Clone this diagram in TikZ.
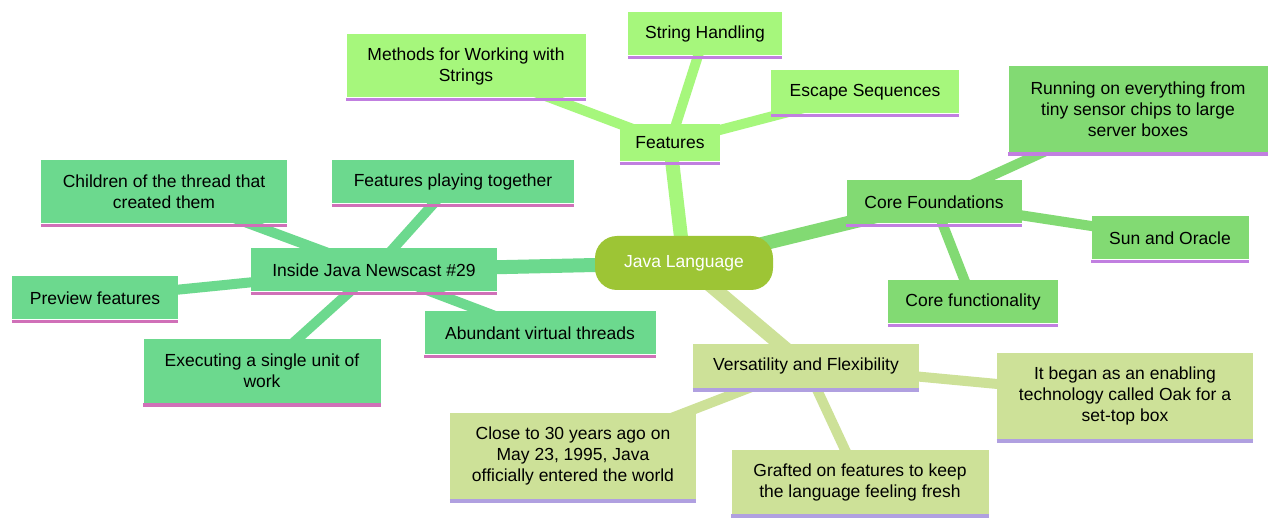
\documentclass[tikz,border=0pt]{standalone}
\usepackage{fontspec}
\setmainfont{Liberation Sans}
\usetikzlibrary{backgrounds}
\definecolor{rootc}{HTML}{9DC535}
\definecolor{featc}{HTML}{A6F77C}
\definecolor{corec}{HTML}{82DA73}
\definecolor{insc}{HTML}{6CD98E}
\definecolor{verc}{HTML}{CDE198}
\definecolor{lineA}{HTML}{C17FE0}
\definecolor{lineB}{HTML}{D070B8}
\definecolor{lineC}{HTML}{B0A0E0}
\tikzset{
 bx/.style={fill=#1, inner sep=0pt, align=center, font=\fontsize{17.5}{21}\selectfont},
 ed/.style={line width=#1, line cap=butt},
 ul/.style={line width=3.5, #1},
}
\begin{document}
\begin{tikzpicture}[x=1pt,y=-1pt]
\useasboundingbox (0,0) rectangle (1280,526);
% nodes
\node[bx=rootc, rounded corners=22pt, minimum width=178, minimum height=54, text=white] (root) at (684,263) {Java Language};
\node[bx=featc, minimum width=100, minimum height=37] (feat) at (670,143) {Features};
\node[bx=featc, minimum width=154, minimum height=43] (str) at (705,34) {String Handling};
\node[bx=featc, minimum width=239, minimum height=63] (meth) at (466,66) {Methods for Working with\\Strings};
\node[bx=featc, minimum width=188, minimum height=43] (esc) at (865,92) {Escape Sequences};
\node[bx=corec, minimum width=175, minimum height=43] (core) at (934,202) {Core Foundations};
\node[bx=corec, minimum width=259, minimum height=86] (run) at (1138,109) {Running on everything from\\tiny sensor chips to large\\server boxes};
\node[bx=corec, minimum width=157, minimum height=43] (sun) at (1170,238) {Sun and Oracle};
\node[bx=corec, minimum width=170, minimum height=43] (cfun) at (973,302) {Core functionality};
\node[bx=insc, minimum width=246, minimum height=43] (ins) at (374,270) {Inside Java Newscast \#29};
\node[bx=insc, minimum width=246, minimum height=63] (child) at (164,192) {Children of the thread that\\created them};
\node[bx=insc, minimum width=242, minimum height=43] (play) at (453,182) {Features playing together};
\node[bx=insc, minimum width=166, minimum height=43] (prev) at (95,298) {Preview features};
\node[bx=insc, minimum width=237, minimum height=64] (exec) at (262,371) {Executing a single unit of\\work};
\node[bx=insc, minimum width=231, minimum height=43] (abun) at (540,333) {Abundant virtual threads};
\node[bx=verc, minimum width=226, minimum height=44] (ver) at (806,366) {Versatility and Flexibility};
\node[bx=verc, minimum width=256, minimum height=86] (oak) at (1125,396) {It began as an enabling\\technology called Oak for a\\set-top box};
\node[bx=verc, minimum width=246, minimum height=86] (close) at (573,456) {Close to 30 years ago on\\May 23, 1995, Java\\officially entered the world};
\node[bx=verc, minimum width=257, minimum height=64] (graft) at (860,482) {Grafted on features to keep\\the language feeling fresh};
% underlines
\foreach \n/\c in {feat/lineA,str/lineA,meth/lineA,esc/lineA,core/lineA,run/lineA,sun/lineA,cfun/lineA,ins/lineB,child/lineB,play/lineB,prev/lineB,exec/lineB,abun/lineB,ver/lineC,oak/lineC,close/lineC,graft/lineC}
  \draw[ul=\c] ([yshift=-1.75]\n.south west) -- ([yshift=-1.75]\n.south east);
% edges
\begin{scope}[on background layer]
\fill[white] (0,0) rectangle (1280,526);
\draw[ed=14, featc] (root.center) -- (feat.center);
\draw[ed=14, corec] (root.center) -- (core.center);
\draw[ed=14, insc] (root.center) -- (ins.center);
\draw[ed=14, verc] (root.center) -- (ver.center);
\draw[ed=10, featc] (feat.center) -- (str.center);
\draw[ed=10, featc] (feat.center) -- (meth.center);
\draw[ed=10, featc] (feat.center) -- (esc.center);
\draw[ed=10, corec] (core.center) -- (run.center);
\draw[ed=10, corec] (core.center) -- (sun.center);
\draw[ed=10, corec] (core.center) -- (cfun.center);
\draw[ed=10, insc] (ins.center) -- (child.center);
\draw[ed=10, insc] (ins.center) -- (play.center);
\draw[ed=10, insc] (ins.center) -- (prev.center);
\draw[ed=10, insc] (ins.center) -- (exec.center);
\draw[ed=10, insc] (ins.center) -- (abun.center);
\draw[ed=10, verc] (ver.center) -- (oak.center);
\draw[ed=10, verc] (ver.center) -- (close.center);
\draw[ed=10, verc] (ver.center) -- (graft.center);
\end{scope}
\end{tikzpicture}
\end{document}
